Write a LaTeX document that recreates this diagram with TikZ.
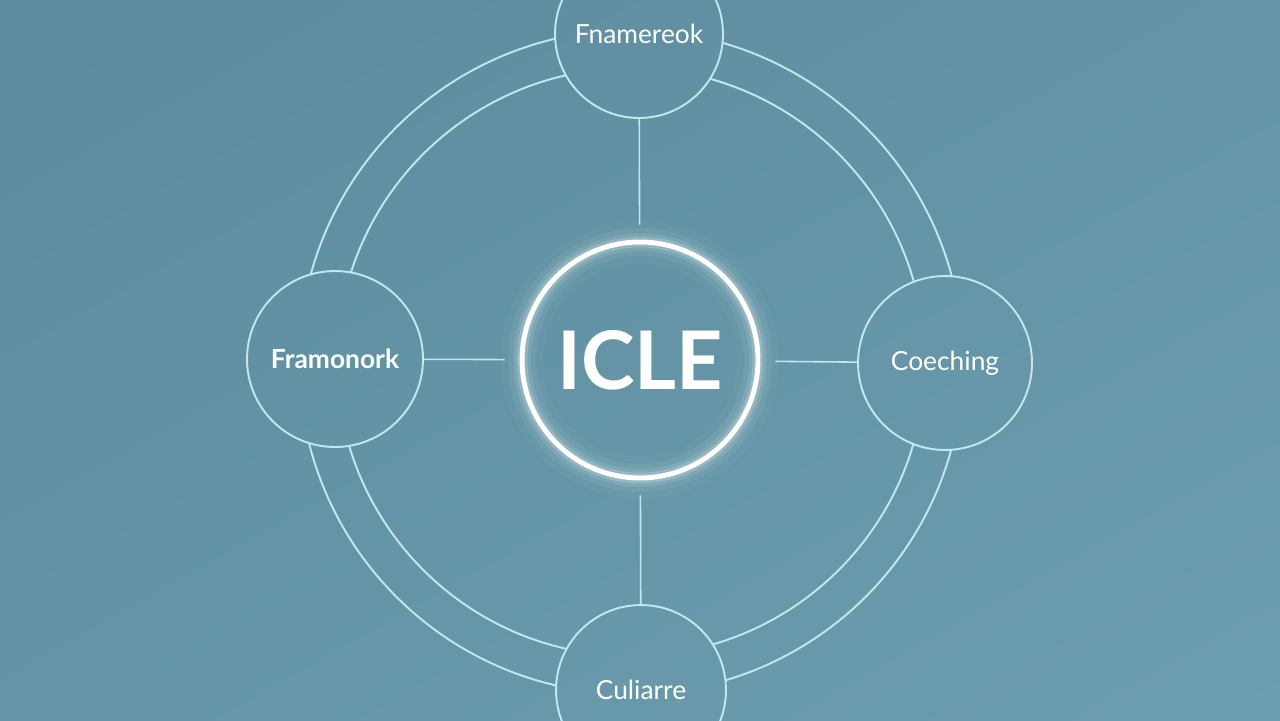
\documentclass[tikz,border=0pt]{standalone}
\usepackage{fontspec}
\setmainfont{Lato}
\usetikzlibrary{shadings}
\definecolor{bgdark}{HTML}{5B8B9D}
\definecolor{bgmid}{HTML}{6494A6}
\definecolor{bglight}{HTML}{6D9EAF}
\definecolor{ringline}{HTML}{C4E6EE}
\begin{document}
\begin{tikzpicture}[x=0.02cm, y=-0.02cm,
  part/.style={circle, draw=ringline, line width=1.1pt, inner sep=0pt, text=white, font=\fontsize{15}{18}\selectfont},
  hub/.style={circle, draw=white, line width=2.8pt, minimum size=4.72cm, inner sep=0pt, text=white, font=\fontsize{46}{50}\selectfont\bfseries},
  spoke/.style={draw=ringline, line width=0.9pt}]
\useasboundingbox (0,0) rectangle (1280,720);
\shade[upper left=bgdark, upper right=bgmid, lower left=bgmid, lower right=bglight] (0,0) rectangle (1280,720);
\coordinate (mid) at (631,362);
\begin{scope}[even odd rule]
\clip (0,0) rectangle (1280,720)
  (639,34) circle (1.68cm) (335,359) circle (1.76cm)
  (945,363) circle (1.74cm) (641,690) circle (1.7cm);
\draw[ringline, line width=1.1pt] (mid) circle (5.88cm);
\draw[ringline, line width=1.1pt] (mid) circle (6.64cm);
\end{scope}
\foreach \w/\o in {24/0.03, 16/0.06, 10/0.1, 6/0.18}
  \draw[white, line width=\w pt, opacity=\o] (640,360) circle (2.36cm);
\node[hub] (icle) at (640,360) {ICLE};
\node[part, minimum size=3.36cm] (top) at (639,34) {Fnamereok};
\node[part, minimum size=3.52cm, font=\fontsize{15}{18}\selectfont\bfseries] (left) at (335,359) {Framonork};
\node[part, minimum size=3.48cm] (right) at (945,363) {Coeching};
\node[part, minimum size=3.4cm, text depth=-0.28cm] (bot) at (641,690) {Culiarre};
\draw[spoke, shorten <=0.3cm](icle) -- (top);
\draw[spoke, shorten <=0.3cm](icle) -- (left);
\draw[spoke, shorten <=0.3cm](icle) -- (right);
\draw[spoke, shorten <=0.3cm](icle) -- (bot);
\end{tikzpicture}
\end{document}
